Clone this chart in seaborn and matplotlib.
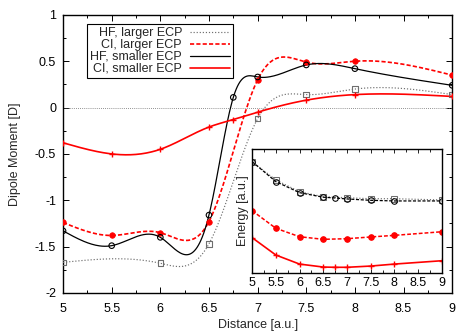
import numpy as np
import pandas as pd
import matplotlib
matplotlib.use("Agg")
import matplotlib.pyplot as plt
import seaborn as sns
from matplotlib.ticker import MultipleLocator, NullLocator

# ==========================
# DATA
# ==========================

# main plot: dipole moment [D]
x_hf_large = [5.0, 6.0, 6.5, 7.0, 7.5, 8.0, 9.0]
y_hf_large = [-1.67, -1.68, -1.47, -0.12, 0.14, 0.20, 0.14]

x_ci_large = [5.0, 5.5, 6.0, 6.5, 7.0, 7.5, 8.0, 9.0]
y_ci_large = [-1.24, -1.38, -1.35, -1.23, 0.30, 0.49, 0.50, 0.35]

x_hf_small = [5.0, 5.5, 6.0, 6.5, 6.75, 7.0, 7.5, 8.0, 9.0]
y_hf_small = [-1.33, -1.49, -1.40, -1.16, 0.11, 0.33, 0.46, 0.42, 0.24]

x_ci_small = [5.0, 5.5, 6.0, 6.5, 6.75, 7.0, 7.5, 8.0, 9.0]
y_ci_small = [-0.38, -0.50, -0.45, -0.21, -0.13, -0.05, 0.08, 0.14, 0.12]

# inset: energy [a.u.] (no scale given, relative units)
ex_hf_small = [5.0, 5.5, 6.0, 6.5, 6.75, 7.0, 7.5, 8.0, 9.0]
ey_hf_small = [0.897, 0.736, 0.647, 0.610, 0.604, 0.596, 0.585, 0.580, 0.580]

ex_hf_large = [5.0, 5.5, 6.0, 6.5, 7.0, 7.5, 8.0, 9.0]
ey_hf_large = [0.897, 0.749, 0.655, 0.614, 0.606, 0.598, 0.598, 0.588]

ex_ci_large = [5.0, 5.5, 6.0, 6.5, 7.0, 7.5, 8.0, 9.0]
ey_ci_large = [0.501, 0.359, 0.291, 0.270, 0.275, 0.289, 0.302, 0.331]

ex_ci_small = [5.0, 5.5, 6.0, 6.5, 6.75, 7.0, 7.5, 8.0, 9.0]
ey_ci_small = [0.283, 0.143, 0.070, 0.046, 0.044, 0.044, 0.054, 0.070, 0.097]

RED = "#ff0000"
GRAY = "#6e6e6e"


# natural cubic spline, like gnuplot "smooth csplines"
def csplines(x, y, n=300):
    x = np.asarray(x, float)
    y = np.asarray(y, float)
    N = len(x)
    h = np.diff(x)
    A = np.zeros((N, N))
    b = np.zeros(N)
    A[0, 0] = A[-1, -1] = 1
    for i in range(1, N - 1):
        A[i, i - 1] = h[i - 1]
        A[i, i] = 2 * (h[i - 1] + h[i])
        A[i, i + 1] = h[i]
        b[i] = 3 * ((y[i + 1] - y[i]) / h[i] - (y[i] - y[i - 1]) / h[i - 1])
    c = np.linalg.solve(A, b)
    bb = (y[1:] - y[:-1]) / h - h * (2 * c[:-1] + c[1:]) / 3
    d = (c[1:] - c[:-1]) / (3 * h)
    xs = np.linspace(x[0], x[-1], n)
    idx = np.clip(np.searchsorted(x, xs) - 1, 0, N - 2)
    t = xs - x[idx]
    ys = y[idx] + bb[idx] * t + c[idx] * t ** 2 + d[idx] * t ** 3
    return pd.DataFrame({"x": xs, "y": ys})


sns.set_theme(style="ticks")
plt.rcParams["font.family"] = ["Liberation Sans", "DejaVu Sans"]
plt.rcParams["font.size"] = 9

fig = plt.figure(figsize=(4.74, 3.31), dpi=100)
ax = fig.add_axes([0.133, 0.115, 0.821, 0.840])

ax.axhline(0, color=GRAY, lw=0.6, ls=(0, (1, 1.5)), zorder=1)

series = [
    ("HF, larger ECP", x_hf_large, y_hf_large, GRAY, (0, (1, 1.6)), 0.85),
    ("CI, larger ECP", x_ci_large, y_ci_large, RED, (0, (2.5, 1.3)), 1.2),
    ("HF, smaller ECP", x_hf_small, y_hf_small, "black", "-", 0.9),
    ("CI, smaller ECP", x_ci_small, y_ci_small, RED, "-", 1.2),
]

for label, xs, ys, col, ls, lw in series:
    sm = csplines(xs, ys)
    sns.lineplot(data=sm, x="x", y="y", ax=ax, color=col, lw=lw,
                 linestyle=ls, label=label, sort=False, zorder=3)

# point markers
pts = pd.DataFrame({"x": x_hf_large, "y": y_hf_large})
sns.scatterplot(data=pts, x="x", y="y", ax=ax, marker="s", s=16,
                facecolor="none", edgecolor=GRAY, linewidth=0.8, zorder=4)
pts = pd.DataFrame({"x": x_ci_large, "y": y_ci_large})
sns.scatterplot(data=pts, x="x", y="y", ax=ax, marker="o", s=16,
                color=RED, edgecolor=RED, linewidth=0.5, zorder=4)
pts = pd.DataFrame({"x": x_hf_small, "y": y_hf_small})
sns.scatterplot(data=pts, x="x", y="y", ax=ax, marker="o", s=16,
                facecolor="none", edgecolor="black", linewidth=0.8, zorder=4)
pts = pd.DataFrame({"x": x_ci_small, "y": y_ci_small})
sns.scatterplot(data=pts, x="x", y="y", ax=ax, marker="+", s=22,
                color=RED, linewidth=1.0, zorder=4)

ax.set_xlim(5, 9)
ax.set_ylim(-2, 1)
ax.xaxis.set_major_locator(MultipleLocator(0.5))
ax.xaxis.set_minor_locator(MultipleLocator(0.25))
ax.yaxis.set_major_locator(MultipleLocator(0.5))
ax.yaxis.set_minor_locator(MultipleLocator(0.25))
ax.xaxis.set_major_formatter(lambda v, p: f"{v:g}")
ax.yaxis.set_major_formatter(lambda v, p: f"{v:g}")
ax.tick_params(which="both", direction="in", top=True, right=True,
               colors="black", labelsize=9, width=0.7)
ax.tick_params(which="major", length=4, pad=5)
ax.tick_params(axis="x", which="major", pad=7)
ax.tick_params(which="minor", length=2.5)
for sp in ax.spines.values():
    sp.set_color("black")
    sp.set_linewidth(1.0)
ax.set_xlabel("Distance [a.u.]", fontsize=9, labelpad=3)
ax.set_ylabel("Dipole Moment [D]", fontsize=9, labelpad=10)

leg = ax.legend(loc="upper left", bbox_to_anchor=(0.062, 0.968),
                markerfirst=False, frameon=True, fancybox=False,
                edgecolor="black", framealpha=1, fontsize=9,
                handlelength=3.2, labelspacing=0.0, borderpad=0.25,
                handletextpad=0.6, borderaxespad=0)
leg.get_frame().set_linewidth(0.8)

# ==========================
# INSET: ENERGY
# ==========================
ins = fig.add_axes([0.532, 0.176, 0.400, 0.374])
ins.set_facecolor("white")
ins.set_zorder(5)

sns.lineplot(x=ex_hf_large, y=ey_hf_large, ax=ins, color=GRAY, lw=0.85,
             linestyle=(0, (1, 1.6)), marker="s", markersize=4,
             markerfacecolor="none", markeredgecolor=GRAY, sort=False)
sns.lineplot(x=ex_hf_small, y=ey_hf_small, ax=ins, color="black", lw=0.9,
             linestyle=(0, (2.5, 1.3)), marker="o", markersize=4,
             markerfacecolor="none", markeredgecolor="black", sort=False)
sns.lineplot(x=ex_ci_large, y=ey_ci_large, ax=ins, color=RED, lw=1.1,
             linestyle=(0, (2.5, 1.3)), marker="o", markersize=4,
             markerfacecolor=RED, markeredgecolor=RED, sort=False)
sns.lineplot(x=ex_ci_small, y=ey_ci_small, ax=ins, color=RED, lw=1.2,
             marker="+", markersize=5, markeredgewidth=1.0,
             markeredgecolor=RED, sort=False)

ins.set_xlim(5, 9)
ins.set_ylim(0, 1)
ins.xaxis.set_major_locator(MultipleLocator(0.5))
ins.xaxis.set_minor_locator(MultipleLocator(0.25))
ins.xaxis.set_major_formatter(lambda v, p: f"{v:g}")
ins.yaxis.set_major_locator(NullLocator())
ins.yaxis.set_minor_locator(NullLocator())
ins.tick_params(which="both", direction="in", top=True, colors="black",
                labelsize=9, width=0.6)
ins.tick_params(which="major", length=3, pad=3)
ins.tick_params(which="minor", length=2)
for sp in ins.spines.values():
    sp.set_color("black")
    sp.set_linewidth(1.0)
ins.set_xlabel("")
ins.set_ylabel("Energy [a.u.]", fontsize=9, labelpad=2)

fig.savefig("out.png", dpi=100)
